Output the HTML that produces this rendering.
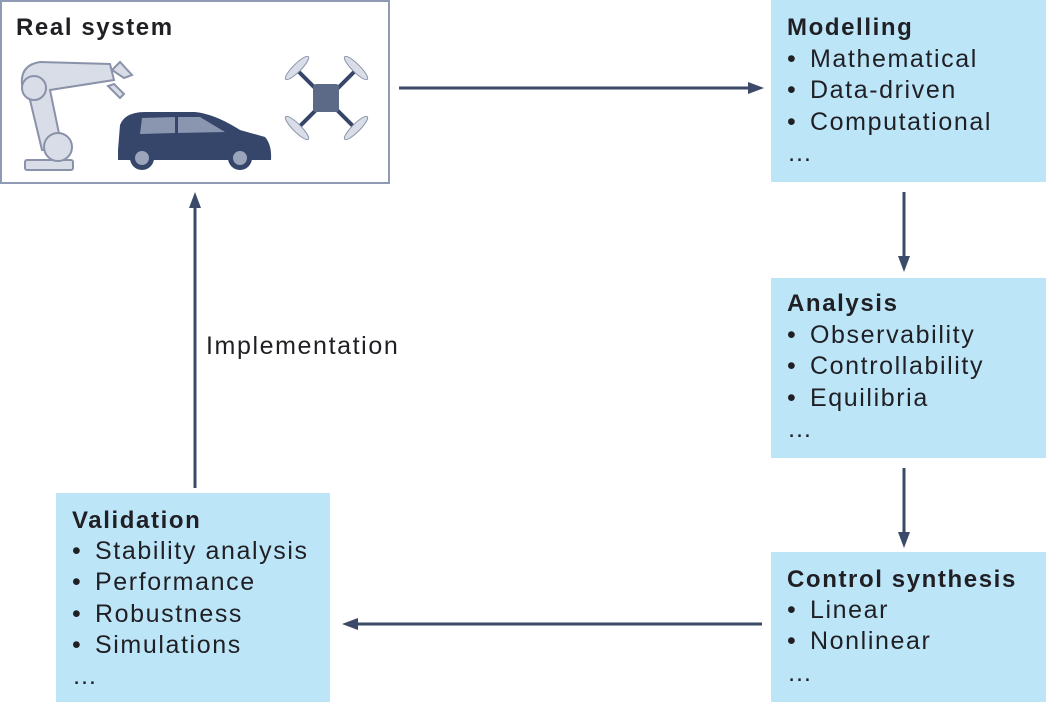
<!DOCTYPE html>
<html><head><style>
body{margin:0;width:1046px;height:702px;background:#fff;position:relative;overflow:hidden;font-family:"Liberation Sans",sans-serif;color:#1f1f24}
.b{position:absolute;background:#bde5f8}
.t{position:absolute;font-weight:bold;font-size:24px;line-height:26px;letter-spacing:1.6px}
.l{position:absolute;font-size:25px;line-height:31.3px;white-space:nowrap;letter-spacing:1.6px}
.l i{font-style:normal;display:inline-block;width:23px;letter-spacing:0}
</style></head><body>
<div style="position:absolute;left:0;top:0;width:386px;height:180px;border:2px solid #8f9bb5"></div>
<div class="t" style="left:16px;top:15px">Real system</div>
<div class="b" style="left:771px;top:0;width:275px;height:182px"></div>
<div class="t" style="left:787px;top:15px">Modelling</div>
<div class="l" style="left:787px;top:44px"><i>•</i>Mathematical<br><i>•</i>Data-driven<br><i>•</i>Computational<br>…</div>
<div class="b" style="left:771px;top:278px;width:275px;height:180px"></div>
<div class="t" style="left:787px;top:291px">Analysis</div>
<div class="l" style="left:787px;top:320px"><i>•</i>Observability<br><i>•</i>Controllability<br><i>•</i>Equilibria<br>…</div>
<div class="b" style="left:771px;top:552px;width:275px;height:150px"></div>
<div class="t" style="left:787px;top:567px">Control synthesis</div>
<div class="l" style="left:787px;top:595px"><i>•</i>Linear<br><i>•</i>Nonlinear<br>…</div>
<div class="b" style="left:56px;top:493px;width:274px;height:209px"></div>
<div class="t" style="left:72px;top:508px">Validation</div>
<div class="l" style="left:72px;top:536px"><i>•</i>Stability analysis<br><i>•</i>Performance<br><i>•</i>Robustness<br><i>•</i>Simulations<br>…</div>
<div class="l" style="left:206px;top:331px">Implementation</div>
<svg width="1046" height="702" style="position:absolute;left:0;top:0">
<g stroke="#3b4a68" stroke-width="3" fill="#3b4a68">
<line x1="399" y1="88" x2="752" y2="88"/><path d="M764 88 L748 82 L748 94Z" stroke="none"/>
<line x1="904" y1="192" x2="904" y2="260"/><path d="M904 272 L898 256 L910 256Z" stroke="none"/>
<line x1="904" y1="468" x2="904" y2="536"/><path d="M904 548 L898 532 L910 532Z" stroke="none"/>
<line x1="762" y1="624" x2="354" y2="624"/><path d="M342 624 L358 618 L358 630Z" stroke="none"/>
<line x1="195" y1="488" x2="195" y2="204"/><path d="M195 192 L189 208 L201 208Z" stroke="none"/>
</g>
<g fill="#d9dde8" stroke="#8a92aa" stroke-width="2">
<rect x="25" y="160" width="48" height="10" rx="2"/>
<path d="M22 85 Q20 65 40 62 L110 64 L114 80 L50 90 L62 148 L42 150 L30 100Z"/>
<circle cx="34" cy="88" r="12"/><circle cx="58" cy="147" r="14"/>
<path d="M112 70 L120 62 L132 75 L124 78Z M108 86 L120 98 L124 94 L114 84Z"/>
</g>
<path d="M118 150 L120 125 Q125 112 145 112 L195 112 Q215 114 240 130 L265 137 Q272 145 271 160 L118 160Z" fill="#36456a"/>
<path d="M142 118 L175 117 L175 133 L140 134Z M178 117 L200 117 L225 132 L178 133Z" fill="#8a95b0"/>
<circle cx="142" cy="158" r="12" fill="#36456a"/><circle cx="142" cy="158" r="7" fill="#9aa4bb"/>
<circle cx="240" cy="158" r="12" fill="#36456a"/><circle cx="240" cy="158" r="7" fill="#9aa4bb"/>
<g stroke="#36456a" stroke-width="4"><line x1="297" y1="70" x2="356" y2="129"/><line x1="356" y1="70" x2="297" y2="129"/></g>
<rect x="313" y="84" width="26" height="28" rx="3" fill="#5c6a88"/>
<g fill="#d9dde8" stroke="#8a92aa"><ellipse cx="297" cy="68" rx="16" ry="4" transform="rotate(-45 297 68)"/><ellipse cx="356" cy="68" rx="16" ry="4" transform="rotate(45 356 68)"/><ellipse cx="297" cy="128" rx="16" ry="4" transform="rotate(45 297 128)"/><ellipse cx="356" cy="128" rx="16" ry="4" transform="rotate(-45 356 128)"/></g>
</svg>
</body></html>
